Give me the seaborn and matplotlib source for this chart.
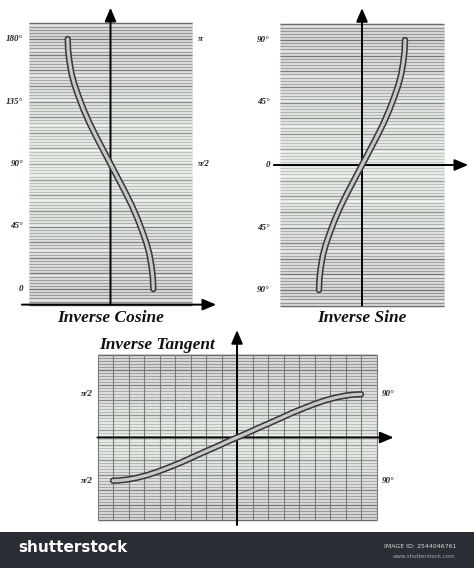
import numpy as np
import pandas as pd
import matplotlib
matplotlib.use('Agg')
import matplotlib.pyplot as plt
import seaborn as sns
from matplotlib.patches import Rectangle

# Datos
# Inverse Cosine: x = cos, y = grados
acos_x = [-1.0, -0.99, -0.96, -0.91, -0.84, -0.75, -0.64, -0.5, -0.34, -0.17, 0.0,
          0.17, 0.34, 0.5, 0.64, 0.75, 0.84, 0.91, 0.96, 0.99, 1.0]
acos_y = [180, 172, 164, 155, 147, 139, 130, 120, 110, 100, 90,
          80, 70, 60, 50, 41, 33, 25, 16, 8, 0]
acos_deg_ticks = [0, 45, 90, 135, 180]
acos_deg_labels = ['0', '45°', '90°', '135°', '180°']
acos_rad_ticks = [90, 180]
acos_rad_labels = ['π/2', 'π']

# Inverse Sine
asin_x = [-1.0, -0.99, -0.96, -0.91, -0.84, -0.75, -0.64, -0.5, -0.34, -0.17, 0.0,
          0.17, 0.34, 0.5, 0.64, 0.75, 0.84, 0.91, 0.96, 0.99, 1.0]
asin_y = [-90, -82, -74, -65, -57, -49, -40, -30, -20, -10, 0,
          10, 20, 30, 40, 49, 57, 65, 74, 82, 90]
asin_ticks = [-90, -45, 0, 45, 90]
asin_labels = ['90°', '45°', '0', '45°', '90°']

# Inverse Tangent: x = columnas, y = radianes
atan_x = [-8, -7.6, -7.1, -6.5, -5.8, -5.1, -4.4, -3.6, -2.9, -2.1, -1.4, -0.7, 0,
          0.7, 1.4, 2.1, 2.9, 3.6, 4.4, 5.1, 5.8, 6.5, 7.1, 7.6, 8]
atan_y = [-1.56, -1.55, -1.52, -1.46, -1.36, -1.23, -1.08, -0.90, -0.72, -0.52, -0.35, -0.17, 0,
          0.17, 0.35, 0.52, 0.72, 0.90, 1.08, 1.23, 1.36, 1.46, 1.52, 1.55, 1.56]
atan_ticks = [-np.pi / 2, np.pi / 2]
atan_left_labels = ['π/2', 'π/2']
atan_right_labels = ['90°', '90°']

titles = ['Inverse Cosine', 'Inverse Sine', 'Inverse Tangent']

# Estilo
sns.set_theme(style="white")
plt.rcParams['font.family'] = ['Liberation Serif', 'DejaVu Serif']

W, H = 474, 568
fig = plt.figure(figsize=(W / 100, H / 100), dpi=100)
fig.patch.set_facecolor('white')

lab_kw = dict(fontsize=6.5, fontweight='bold', style='italic', color='#222222', va='center')
title_kw = dict(fontsize=12.5, fontweight='bold', style='italic', color='#111111', va='center')


def make_panel(box, x0, xs, y0, ys):
    l, t, r, b = box
    ax = fig.add_axes([l / W, 1 - b / H, (r - l) / W, (b - t) / H])
    lims = ((l - x0) / xs, (r - x0) / xs), ((y0 - b) / ys, (y0 - t) / ys)
    return ax, lims


def stripes(ax, xl, xr, yb, yt, n_minor, major_every=5):
    mid = (yb + yt) / 2
    half = (yt - yb) / 2
    tt = np.abs(np.linspace(yb, yt, 200) - mid) / half
    bg = np.stack([0.955 - 0.05 * tt, 0.97 - 0.06 * tt, 0.955 - 0.05 * tt], axis=1)[:, None, :]
    ax.imshow(bg, extent=[xl, xr, yb, yt], origin='lower', aspect='auto',
              zorder=0, interpolation='bilinear')
    for i, y in enumerate(np.linspace(yb, yt, n_minor + 1)):
        t = abs(y - mid) / half
        L = 0.79 - 0.21 * t
        if i % major_every == 0:
            L -= 0.16
        ax.hlines(y, xl, xr, color=(L - 0.03 * (1 - t), L, L - 0.03 * (1 - t)), lw=1.05, zorder=1)


def arrow(ax, start, tip):
    ax.annotate('', xy=tip, xytext=start, annotation_clip=False,
                arrowprops=dict(arrowstyle='-|>,head_length=0.9,head_width=0.38', color='black',
                                lw=1.4, mutation_scale=9, shrinkA=0, shrinkB=0), zorder=6)


def tube(ax, x, y):
    df = pd.DataFrame({'x': x, 'y': y})
    sns.lineplot(data=df, x='x', y='y', ax=ax, color='#3a3a3a', lw=4.6, sort=False,
                 estimator=None, solid_capstyle='round', zorder=7)
    sns.lineplot(data=df, x='x', y='y', ax=ax, color='#c8c8c8', lw=2.3, sort=False,
                 estimator=None, solid_capstyle='round', zorder=8)


# Panel 1: Inverse Cosine
ax1, (xl1, yl1) = make_panel((0, 0, 237, 330), 110.5, 42.8, 289, 250 / 180)
stripes(ax1, -1.915, 1.915, -11.25, 191.25, 90)
arrow(ax1, (-2.07, -11.25), (2.47, -11.25))
arrow(ax1, (0, -11.25), (0, 202.5))
tube(ax1, acos_x, acos_y)
for v, s in zip(acos_deg_ticks, acos_deg_labels):
    ax1.text(-2.04, v, s, ha='right', **lab_kw)
for v, s in zip(acos_rad_ticks, acos_rad_labels):
    ax1.text(2.04, v, s, ha='left', **lab_kw)
ax1.text(0, -21, titles[0], ha='center', **title_kw)
ax1.set_xlim(*xl1)
ax1.set_ylim(*yl1)
ax1.axis('off')

# Panel 2: Inverse Sine
ax2, (xl2, yl2) = make_panel((237, 0, 474, 330), 362, 43, 165, 125 / 90)
stripes(ax2, -1.907, 1.907, -101.25, 101.25, 90)
arrow(ax2, (-2.05, 0), (2.47, 0))
arrow(ax2, (0, -101.25), (0, 113))
tube(ax2, asin_x, asin_y)
for v, s in zip(asin_ticks, asin_labels):
    ax2.text(-2.14, v, s, ha='right', **lab_kw)
ax2.text(0, -110, titles[1], ha='center', **title_kw)
ax2.set_xlim(*xl2)
ax2.set_ylim(*yl2)
ax2.axis('off')

# Panel 3: Inverse Tangent
ax3, (xl3, yl3) = make_panel((60, 325, 420, 532), 237, 15.5, 437.5, 27.7)
stripes(ax3, -9, 9, -2.98, 2.98, 55)
ax3.vlines(np.arange(-9, 10), -2.98, 2.98, color='#7a7a7a', lw=0.8, zorder=2)
arrow(ax3, (-9, 0), (10.1, 0))
arrow(ax3, (0, -3.16), (0, 3.88))
tube(ax3, atan_x, atan_y)
for v, s in zip(atan_ticks, atan_left_labels):
    ax3.text(-9.29, v, s, ha='right', **lab_kw)
for v, s in zip(atan_ticks, atan_right_labels):
    ax3.text(9.35, v, s, ha='left', **lab_kw)
ax3.text(-8.86, 3.34, titles[2], ha='left', **title_kw)
ax3.set_xlim(*xl3)
ax3.set_ylim(*yl3)
ax3.axis('off')

# Banda inferior
fig.add_artist(Rectangle((0, 0), 1, 36 / H, transform=fig.transFigure,
                         facecolor='#2a2d34', edgecolor='none', zorder=-1))
fig.text(18 / W, 1 - 548 / H, 'shutterstock', family='DejaVu Sans', fontsize=11,
         fontweight='bold', color='white', va='center', ha='left')
fig.text(456 / W, 1 - 546 / H, 'IMAGE ID: 2544046761', family='DejaVu Sans', fontsize=4.5,
         color='#d8d8d8', va='center', ha='right')
fig.text(456 / W, 1 - 556 / H, 'www.shutterstock.com', family='DejaVu Sans', fontsize=4,
         color='#a8a8a8', va='center', ha='right')

fig.savefig('out.png', dpi=100, facecolor='white')
